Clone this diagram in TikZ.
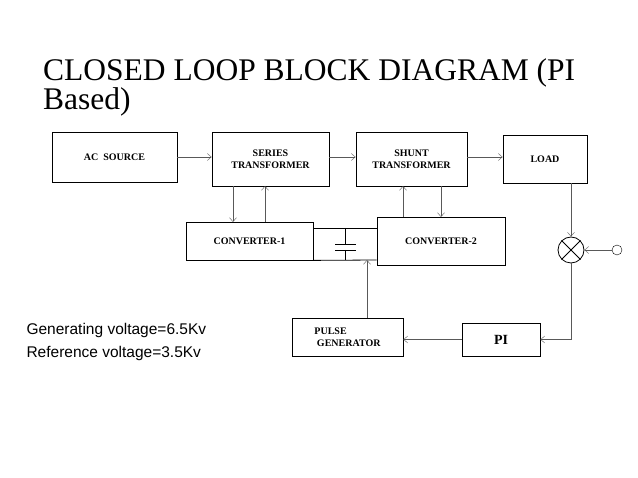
\documentclass[tikz,border=0pt]{standalone}
\usepackage{fontspec}
\setmainfont{Liberation Serif}
\newfontfamily\sansf{Liberation Sans}
\usetikzlibrary{arrows.meta, calc, positioning}

\tikzset{
  blk/.style={draw, thick, inner sep=0pt, font=\bfseries\fontsize{10}{11.5}\selectfont, align=center},
  flow/.style={->, >={Straight Barb[length=4pt,width=7pt]}, gray!70!black}
}

\begin{document}
\begin{tikzpicture}[x=1pt,y=-1pt]
        \useasboundingbox (0,0) rectangle (638,478);

        \node[anchor=base west, inner sep=0pt, font=\fontsize{31.5}{28}\selectfont, align=left] (title) at (43,110) {CLOSED LOOP BLOCK DIAGRAM (PI\\Based)};

        \node[blk, minimum width=125pt, minimum height=50pt] (ac) at (114.5,157) {AC\ \ SOURCE};
        \node[blk, minimum width=117pt, minimum height=54pt] (ser) at (270.5,159) {SERIES\\TRANSFORMER};
        \node[blk, minimum width=111pt, minimum height=54pt] (shu) at (411.5,159) {SHUNT\\TRANSFORMER};
        \node[blk, minimum width=84pt, minimum height=48pt] (load) at (545,159) {LOAD};
        \node[blk, minimum width=127pt, minimum height=38pt] (cv1) at (249.5,241) {CONVERTER-1};
        \node[blk, minimum width=128pt, minimum height=48pt] (cv2) at (441,241) {CONVERTER-2};
        \node[blk, minimum width=78pt, minimum height=33pt, font=\bfseries\fontsize{14}{15}\selectfont] (pi) at (501,339.5) {PI};
        \node[blk, minimum width=111pt, minimum height=38pt, align=left] (pg) at (347.5,337) {PULSE\\\ GENERATOR};
        \node[draw, thick, circle, minimum size=26pt, inner sep=0pt] (sum) at (571,250) {};
        \draw[thick] (sum.north west) -- (sum.south east) (sum.north east) -- (sum.south west);
        \node[draw, circle, minimum size=10pt, inner sep=0pt] (ref) at (617,250) {};

        % dc link with capacitor
        \draw[thick] (cv1.east |- 0,228) -- (cv2.west |- 0,228);
        \draw[thick] (cv1.south east) -- (cv2.west |- 0,260);
        \draw[thick] (345,228) -- (345,244) (345,250) -- (345,260);
        \draw[thick] (335,244) -- (356,244) (335,250) -- (356,250);

        % forward path
        \draw[flow] (ac.east) -- (ser.west |- ac.east);
        \draw[flow] (ser.east |- ac.east) -- (shu.west |- ac.east);
        \draw[flow] (shu.east |- ac.east) -- (load.west |- ac.east);
        \draw[flow] (233,186) -- (233,222);
        \draw[flow] (265,222) -- (265,186);
        \draw[flow] (403,217) -- (403,186);
        \draw[flow] (441,186) -- (441,217);

        % feedback loop
        \draw[flow] (load.south -| sum.north) -- (sum.north);
        \draw[flow] (ref.west) -- (sum.east);
        \draw[flow] (sum.south) |- (pi.east);
        \draw[flow] (pi.west) -- (pg.east |- pi.west);
        \draw[flow] (pg.north -| 367,0) -- (367,260);

        \node[anchor=base west, font=\sansf\fontsize{15.5}{18}\selectfont, align=left] (gv) at (23,335) {Generating voltage=6.5Kv};
        \node[anchor=base west, font=\sansf\fontsize{15.5}{18}\selectfont, align=left] (rv) at (23,358) {Reference voltage=3.5Kv};
\end{tikzpicture}
\end{document}
